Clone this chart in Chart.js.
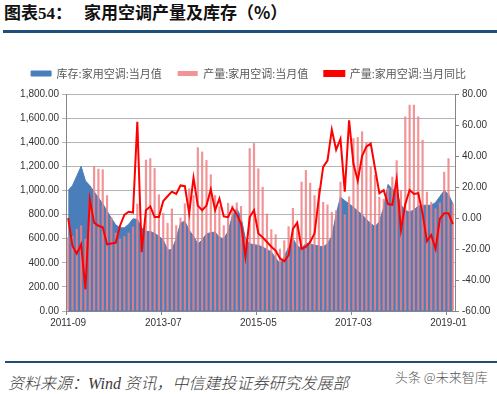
<!DOCTYPE html>
<html>
<head>
<meta charset="utf-8">
<script src="https://cdn.jsdelivr.net/npm/chart.js@4.4.1/dist/chart.umd.min.js"></script>
<style>
body{margin:0;background:#fff;width:497px;height:394px;position:relative;overflow:hidden;font-family:"Noto Sans CJK SC",sans-serif;}
#title{position:absolute;left:4px;top:0px;font-size:17px;font-weight:bold;color:#111;white-space:nowrap;line-height:24px;}
#title .num{font-family:"Liberation Serif",serif;}
.rule{position:absolute;left:3px;right:0;background:#1F4E79;}
#wrap{position:absolute;left:0;top:40px;width:497px;height:300px;}
#source{position:absolute;left:8px;top:370px;font-size:16px;font-style:italic;font-weight:300;color:#3a3a3a;white-space:nowrap;line-height:24px;}
#source .w{font-family:"Liberation Serif",serif;font-weight:normal;}
#mark{position:absolute;left:395px;top:367px;font-size:13px;font-weight:300;color:#555;white-space:nowrap;}
</style>
</head>
<body>
<div id="title">图表<span class="num">54</span>：<span style="margin-left:12px">家用空调产量及库存（%）</span></div>
<div class="rule" style="top:30px;height:3px"></div>
<div id="wrap"><canvas id="chart" width="497" height="300"></canvas></div>
<div class="rule" style="top:361px;height:2px;left:5px"></div>
<div id="source">资料来源：<span class="w">Wind</span> 资讯，中信建投证券研究发展部</div>
<div id="mark">头条 @未来智库</div>
<script>
// months 2011-09 .. 2019-02
const months = [];
for (let i = 0; i < 90; i++) {
    const y = 2011 + Math.floor((8 + i) / 12);
    const m = (8 + i) % 12 + 1;
    months.push(y + '-' + String(m).padStart(2, '0'));
}
const tickLabels = ['2011-09', '2013-07', '2015-05', '2017-03', '2019-01'];

// 库存 (left axis)
const inventory = [
    1000, 1040, 1120, 1200, 1080, 1040, 990, 940, 890, 830,
    770, 715, 690, 690, 720, 765, 760, 690, 660, 660,
    645, 620, 590, 505, 510, 600, 730, 745, 670, 620,
    555, 590, 640, 650, 655, 610, 600, 660, 790, 850,
    780, 600, 558, 550, 545, 530, 510, 490, 440, 395,
    450, 530, 600, 540, 520, 560, 555, 545, 540, 530,
    560, 620, 800, 945, 915, 890, 860, 830, 800, 760,
    725, 700, 740, 860, 1050, 1010, 990, 880, 835, 820,
    840, 870, 877, 877, 877, 900, 950, 1000, 965, 890
];
// 产量 当月值 (left axis)
const output = [
    610, 620, 680, 710, 600, 900, 1203, 1180, 1175, 960,
    780, 650, 600, 620, 650, 700, 890, 600, 1255, 1267,
    1185, 967, 814, 730, 850, 711, 775, 892, 1017, 961,
    1358, 1322, 1252, 1133, 961, 869, 711, 897, 877, 900,
    870, 600, 1350, 1392, 1183, 1030, 808, 678, 636, 517,
    586, 703, 855, 711, 1072, 1169, 1064, 961, 1017, 905,
    883, 822, 836, 1072, 800, 950, 1433, 1442, 1490, 1400,
    1197, 1128, 947, 930, 1020, 1114, 1250, 1000, 1614, 1711,
    1711, 1614, 1419, 989, 905, 850, 900, 1155, 1267, 892
];
// 产量 当月同比 (right axis, %)
const yoy = [
    0, -18, -23, -17, -46, 12, -3, -5, -6, -17,
    -16.5, -16, -5, 2, 4, 3.5, 62, -22, 5, 7.5,
    0.6, 0.6, 11, 14, 17, 15.5, 21, 20.5, 3, 26,
    8, 5, 8, 18.5, 5, 12.5, 1, 0.5, 6.5, 2.5,
    -3.7, -25, 0.6, 5, -10, -12.5, -15.5, -18.5, -21, -26,
    -28, -24, -7, -3, -20, -18.5, -15.5, -10, 13, 33,
    37, 57, 44, 51, 17, 63, 35, 24, 40, 46,
    48, 32, 16, 18, 9, 8.5, 25, -8, 9, 18,
    15.5, 16, 3, -15, -11, -20, -0.5, 3, 3, -4
];

const tickFont = { family: 'Liberation Sans', size: 10 };
const axisGray = '#868686';

// push the plot down a little below the legend
const legendGap = {
    id: 'legendGap',
    afterInit(chart) {
        const fit = chart.legend.fit;
        chart.legend.fit = function() {
            fit.call(this);
            this.height += 5;
        };
    }
};

new Chart(document.getElementById('chart'), {
    data: {
        labels: months,
        datasets: [{
            type: 'line',
            label: '库存:家用空调:当月值',
            data: inventory,
            yAxisID: 'y',
            backgroundColor: '#4A7EBB',
            borderColor: '#4A7EBB',
            borderWidth: 1,
            fill: 'origin',
            pointRadius: 0,
            order: 3
        }, {
            type: 'bar',
            label: '产量:家用空调:当月值',
            data: output,
            yAxisID: 'y',
            backgroundColor: 'rgba(240,128,132,0.85)',
            barPercentage: 0.5,
            categoryPercentage: 1,
            order: 2
        }, {
            type: 'line',
            label: '产量:家用空调:当月同比',
            data: yoy,
            yAxisID: 'y1',
            borderColor: '#FF0000',
            backgroundColor: '#FF0000',
            borderWidth: 2,
            pointRadius: 0,
            fill: false,
            order: 1
        }]
    },
    options: {
        responsive: false,
        animation: false,
        devicePixelRatio: 1,
        layout: { padding: { top: 12, left: 0, right: 0, bottom: 0 } },
        plugins: {
            legend: {
                position: 'top',
                labels: {
                    boxWidth: 20,
                    boxHeight: 5,
                    padding: 16,
                    color: '#595959',
                    font: { family: 'Noto Sans CJK SC', size: 11 },
                    sort: (a, b) => a.datasetIndex - b.datasetIndex
                }
            },
            tooltip: { enabled: false }
        },
        scales: {
            x: {
                offset: true,
                grid: {
                    display: true,
                    drawOnChartArea: false,
                    tickLength: 4,
                    color: ctx => (ctx.index % 22 === 0 ? axisGray : 'rgba(0,0,0,0)')
                },
                border: { color: axisGray },
                ticks: {
                    autoSkip: false,
                    maxRotation: 0,
                    color: '#333',
                    font: tickFont,
                    padding: 2,
                    callback: (v, i) => (tickLabels.includes(months[i]) ? months[i] : '')
                },
                afterFit: s => { s.height = 29; }
            },
            y: {
                position: 'left',
                min: 0,
                max: 1800,
                ticks: {
                    stepSize: 200,
                    color: '#333',
                    font: tickFont,
                    padding: 3,
                    callback: v => v.toLocaleString('en-US', { minimumFractionDigits: 2, maximumFractionDigits: 2 })
                },
                grid: { color: '#B4B4B4', tickLength: 4 },
                border: { color: axisGray },
                afterFit: s => { s.width = 66; }
            },
            y1: {
                position: 'right',
                min: -60,
                max: 80,
                ticks: {
                    stepSize: 20,
                    color: '#333',
                    font: tickFont,
                    padding: 3,
                    callback: v => v.toFixed(2)
                },
                grid: { drawOnChartArea: false, color: axisGray, tickLength: 4 },
                border: { color: axisGray },
                afterFit: s => { s.width = 42; }
            }
        }
    },
    plugins: [legendGap]
});
</script>
</body>
</html>
